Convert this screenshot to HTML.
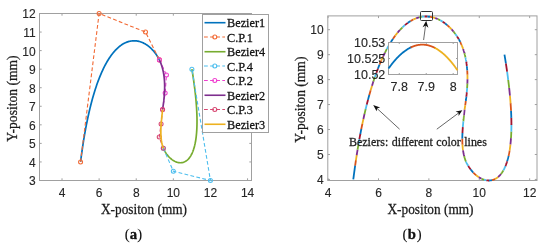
<!DOCTYPE html>
<html><head><meta charset="utf-8"><style>
html,body{margin:0;padding:0;background:#fff;width:550px;height:246px;overflow:hidden}
svg{display:block;filter:blur(0.3px)}
</style></head><body>
<svg width="550" height="246" viewBox="0 0 550 246">
<rect width="550" height="246" fill="#fff"/>
<g stroke="#a0a0a0" stroke-width="1" fill="none">
<line x1="62" y1="180.5" x2="62" y2="178.3"/>
<line x1="62" y1="13.5" x2="62" y2="15.7"/>
<line x1="99.11" y1="180.5" x2="99.11" y2="178.3"/>
<line x1="99.11" y1="13.5" x2="99.11" y2="15.7"/>
<line x1="136.22" y1="180.5" x2="136.22" y2="178.3"/>
<line x1="136.22" y1="13.5" x2="136.22" y2="15.7"/>
<line x1="173.33" y1="180.5" x2="173.33" y2="178.3"/>
<line x1="173.33" y1="13.5" x2="173.33" y2="15.7"/>
<line x1="210.44" y1="180.5" x2="210.44" y2="178.3"/>
<line x1="210.44" y1="13.5" x2="210.44" y2="15.7"/>
<line x1="247.56" y1="180.5" x2="247.56" y2="178.3"/>
<line x1="247.56" y1="13.5" x2="247.56" y2="15.7"/>
<line x1="39.5" y1="180.5" x2="41.7" y2="180.5"/>
<line x1="251.5" y1="180.5" x2="249.3" y2="180.5"/>
<line x1="39.5" y1="161.94" x2="41.7" y2="161.94"/>
<line x1="251.5" y1="161.94" x2="249.3" y2="161.94"/>
<line x1="39.5" y1="143.39" x2="41.7" y2="143.39"/>
<line x1="251.5" y1="143.39" x2="249.3" y2="143.39"/>
<line x1="39.5" y1="124.83" x2="41.7" y2="124.83"/>
<line x1="251.5" y1="124.83" x2="249.3" y2="124.83"/>
<line x1="39.5" y1="106.28" x2="41.7" y2="106.28"/>
<line x1="251.5" y1="106.28" x2="249.3" y2="106.28"/>
<line x1="39.5" y1="87.72" x2="41.7" y2="87.72"/>
<line x1="251.5" y1="87.72" x2="249.3" y2="87.72"/>
<line x1="39.5" y1="69.17" x2="41.7" y2="69.17"/>
<line x1="251.5" y1="69.17" x2="249.3" y2="69.17"/>
<line x1="39.5" y1="50.61" x2="41.7" y2="50.61"/>
<line x1="251.5" y1="50.61" x2="249.3" y2="50.61"/>
<line x1="39.5" y1="32.06" x2="41.7" y2="32.06"/>
<line x1="251.5" y1="32.06" x2="249.3" y2="32.06"/>
<line x1="39.5" y1="13.5" x2="41.7" y2="13.5"/>
<line x1="251.5" y1="13.5" x2="249.3" y2="13.5"/>
<rect x="39.5" y="13.5" width="212" height="167"/>
</g>
<path d="M80.56 161.94 L81.03 158.24 L81.51 154.6 L82.01 151.03 L82.52 147.54 L83.04 144.11 L83.57 140.74 L84.11 137.45 L84.66 134.22 L85.22 131.06 L85.79 127.97 L86.37 124.94 L86.96 121.97 L87.55 119.07 L88.16 116.23 L88.78 113.45 L89.4 110.74 L90.04 108.09 L90.68 105.5 L91.33 102.97 L91.98 100.5 L92.65 98.09 L93.32 95.74 L94 93.45 L94.68 91.21 L95.38 89.04 L96.08 86.92 L96.78 84.85 L97.49 82.84 L98.21 80.89 L98.93 78.99 L99.66 77.14 L100.39 75.35 L101.13 73.61 L101.87 71.93 L102.62 70.29 L103.37 68.71 L104.12 67.17 L104.88 65.69 L105.64 64.25 L106.41 62.87 L107.18 61.53 L107.95 60.24 L108.73 59 L109.51 57.8 L110.29 56.65 L111.07 55.55 L111.85 54.49 L112.64 53.48 L113.42 52.51 L114.21 51.58 L115 50.69 L115.79 49.85 L116.58 49.05 L117.38 48.29 L118.17 47.57 L118.96 46.89 L119.75 46.25 L120.54 45.64 L121.33 45.08 L122.12 44.55 L122.91 44.06 L123.7 43.61 L124.48 43.2 L125.26 42.81 L126.05 42.47 L126.83 42.16 L127.6 41.88 L128.38 41.63 L129.15 41.42 L129.92 41.24 L130.68 41.09 L131.45 40.97 L132.2 40.88 L132.96 40.82 L133.71 40.79 L134.46 40.79 L135.2 40.82 L135.93 40.87 L136.67 40.96 L137.39 41.06 L138.11 41.2 L138.83 41.36 L139.54 41.54 L140.24 41.75 L140.94 41.98 L141.63 42.24 L142.32 42.51 L143 42.81 L143.67 43.13 L144.33 43.48 L144.99 43.84 L145.63 44.22 L146.27 44.62 L146.91 45.04 L147.53 45.47 L148.14 45.93 L148.75 46.4 L149.35 46.89 L149.93 47.39 L150.51 47.91 L151.08 48.44 L151.64 48.99 L152.19 49.55 L152.73 50.12 L153.25 50.71 L153.77 51.3 L154.28 51.91 L154.77 52.53 L155.26 53.16 L155.73 53.8 L156.19 54.45 L156.64 55.11 L157.07 55.77 L157.49 56.44 L157.91 57.12 L158.3 57.8 L158.69 58.49 L159.06 59.19 L159.42 59.89" fill="none" stroke="#0072BD" stroke-width="1.7" stroke-linejoin="round"/>
<path d="M80.56 161.94 L99.11 13.5 L145.5 32.06 L159.42 59.89" fill="none" stroke="#F26A35" stroke-width="1.1" stroke-dasharray="3.8 2.3"/>
<circle cx="80.56" cy="161.94" r="2.0" fill="none" stroke="#F26A35" stroke-width="1.05"/>
<circle cx="99.11" cy="13.5" r="2.0" fill="none" stroke="#F26A35" stroke-width="1.05"/>
<circle cx="145.5" cy="32.06" r="2.0" fill="none" stroke="#F26A35" stroke-width="1.05"/>
<circle cx="159.42" cy="59.89" r="2.0" fill="none" stroke="#F26A35" stroke-width="1.05"/>
<path d="M163.31 148.21 L163.57 148.79 L163.84 149.36 L164.12 149.93 L164.41 150.48 L164.71 151.03 L165.02 151.58 L165.35 152.11 L165.68 152.64 L166.02 153.15 L166.36 153.66 L166.72 154.16 L167.09 154.65 L167.46 155.12 L167.84 155.59 L168.23 156.05 L168.62 156.49 L169.02 156.92 L169.43 157.34 L169.85 157.75 L170.27 158.14 L170.69 158.52 L171.13 158.89 L171.56 159.24 L172 159.58 L172.45 159.91 L172.9 160.21 L173.35 160.51 L173.81 160.78 L174.27 161.04 L174.73 161.28 L175.2 161.51 L175.66 161.72 L176.13 161.91 L176.61 162.08 L177.08 162.23 L177.55 162.37 L178.03 162.48 L178.51 162.57 L178.98 162.65 L179.46 162.7 L179.93 162.73 L180.41 162.75 L180.88 162.73 L181.36 162.7 L181.83 162.65 L182.3 162.57 L182.77 162.47 L183.23 162.34 L183.69 162.19 L184.15 162.02 L184.61 161.82 L185.06 161.59 L185.51 161.34 L185.96 161.07 L186.4 160.76 L186.83 160.44 L187.26 160.08 L187.69 159.7 L188.11 159.28 L188.52 158.84 L188.93 158.38 L189.33 157.88 L189.73 157.35 L190.11 156.8 L190.49 156.21 L190.87 155.59 L191.23 154.94 L191.59 154.26 L191.93 153.55 L192.27 152.81 L192.6 152.03 L192.92 151.22 L193.23 150.38 L193.53 149.51 L193.82 148.6 L194.1 147.65 L194.37 146.68 L194.63 145.66 L194.87 144.61 L195.11 143.53 L195.33 142.41 L195.54 141.25 L195.74 140.05 L195.92 138.82 L196.09 137.55 L196.25 136.24 L196.39 134.9 L196.52 133.51 L196.63 132.08 L196.73 130.62 L196.82 129.11 L196.89 127.57 L196.94 125.98 L196.98 124.36 L197 122.69 L197.01 120.98 L197 119.22 L196.97 117.43 L196.92 115.59 L196.86 113.71 L196.77 111.78 L196.67 109.81 L196.56 107.79 L196.42 105.73 L196.26 103.63 L196.09 101.48 L195.89 99.28 L195.67 97.03 L195.44 94.74 L195.18 92.4 L194.9 90.02 L194.6 87.58 L194.28 85.1 L193.94 82.57 L193.57 79.99 L193.19 77.36 L192.78 74.68 L192.34 71.95 L191.89 69.17" fill="none" stroke="#77AC30" stroke-width="1.7" stroke-linejoin="round"/>
<path d="M163.31 148.21 L173.33 171.22 L210.44 180.5 L191.89 69.17" fill="none" stroke="#4DBEEE" stroke-width="1.1" stroke-dasharray="3.8 2.3"/>
<circle cx="163.31" cy="148.21" r="2.0" fill="none" stroke="#4DBEEE" stroke-width="1.05"/>
<circle cx="173.33" cy="171.22" r="2.0" fill="none" stroke="#4DBEEE" stroke-width="1.05"/>
<circle cx="210.44" cy="180.5" r="2.0" fill="none" stroke="#4DBEEE" stroke-width="1.05"/>
<circle cx="191.89" cy="69.17" r="2.0" fill="none" stroke="#4DBEEE" stroke-width="1.05"/>
<path d="M159.42 59.89 L166.47 74.92 L165.17 92.92 L162.57 109.62" fill="none" stroke="#F040D0" stroke-width="1.1" stroke-dasharray="3.8 2.3"/>
<circle cx="159.42" cy="59.89" r="2.0" fill="none" stroke="#F040D0" stroke-width="1.05"/>
<circle cx="166.47" cy="74.92" r="2.0" fill="none" stroke="#F040D0" stroke-width="1.05"/>
<circle cx="165.17" cy="92.92" r="2.0" fill="none" stroke="#F040D0" stroke-width="1.05"/>
<circle cx="162.57" cy="109.62" r="2.0" fill="none" stroke="#F040D0" stroke-width="1.05"/>
<path d="M159.42 59.89 L159.59 60.27 L159.77 60.65 L159.93 61.03 L160.1 61.41 L160.26 61.8 L160.42 62.18 L160.58 62.57 L160.73 62.96 L160.88 63.35 L161.02 63.74 L161.16 64.13 L161.3 64.52 L161.44 64.92 L161.57 65.31 L161.7 65.71 L161.83 66.1 L161.95 66.5 L162.07 66.9 L162.18 67.3 L162.3 67.7 L162.41 68.1 L162.52 68.5 L162.62 68.91 L162.72 69.31 L162.82 69.72 L162.92 70.12 L163.01 70.53 L163.1 70.94 L163.19 71.34 L163.27 71.75 L163.35 72.16 L163.43 72.57 L163.51 72.99 L163.58 73.4 L163.65 73.81 L163.72 74.23 L163.78 74.64 L163.85 75.06 L163.91 75.47 L163.96 75.89 L164.02 76.31 L164.07 76.72 L164.12 77.14 L164.17 77.56 L164.22 77.98 L164.26 78.4 L164.3 78.82 L164.34 79.25 L164.37 79.67 L164.41 80.09 L164.44 80.51 L164.47 80.94 L164.49 81.36 L164.52 81.79 L164.54 82.21 L164.56 82.64 L164.58 83.06 L164.59 83.49 L164.61 83.91 L164.62 84.34 L164.63 84.77 L164.64 85.2 L164.64 85.62 L164.64 86.05 L164.65 86.48 L164.65 86.91 L164.64 87.34 L164.64 87.77 L164.63 88.2 L164.63 88.63 L164.62 89.06 L164.61 89.49 L164.59 89.92 L164.58 90.35 L164.56 90.78 L164.55 91.21 L164.53 91.64 L164.51 92.07 L164.48 92.5 L164.46 92.93 L164.43 93.36 L164.41 93.79 L164.38 94.22 L164.35 94.65 L164.32 95.08 L164.28 95.52 L164.25 95.95 L164.21 96.38 L164.18 96.81 L164.14 97.24 L164.1 97.67 L164.06 98.1 L164.01 98.53 L163.97 98.96 L163.93 99.39 L163.88 99.82 L163.83 100.25 L163.79 100.68 L163.74 101.11 L163.69 101.54 L163.64 101.97 L163.58 102.39 L163.53 102.82 L163.48 103.25 L163.42 103.68 L163.37 104.1 L163.31 104.53 L163.25 104.96 L163.19 105.38 L163.14 105.81 L163.08 106.23 L163.01 106.66 L162.95 107.08 L162.89 107.51 L162.83 107.93 L162.76 108.35 L162.7 108.77 L162.64 109.2 L162.57 109.62" fill="none" stroke="#7E2F8E" stroke-width="1.7" stroke-linejoin="round"/>
<path d="M162.57 109.62 L161.09 123.91 L159.23 137.08 L163.31 148.21" fill="none" stroke="#D84872" stroke-width="1.1" stroke-dasharray="3.8 2.3"/>
<circle cx="162.57" cy="109.62" r="2.0" fill="none" stroke="#D84872" stroke-width="1.05"/>
<circle cx="161.09" cy="123.91" r="2.0" fill="none" stroke="#D84872" stroke-width="1.05"/>
<circle cx="159.23" cy="137.08" r="2.0" fill="none" stroke="#D84872" stroke-width="1.05"/>
<circle cx="163.31" cy="148.21" r="2.0" fill="none" stroke="#D84872" stroke-width="1.05"/>
<path d="M162.57 109.62 L162.53 109.98 L162.5 110.34 L162.46 110.7 L162.42 111.05 L162.38 111.41 L162.34 111.77 L162.31 112.13 L162.27 112.48 L162.23 112.84 L162.19 113.2 L162.15 113.55 L162.12 113.91 L162.08 114.26 L162.04 114.61 L162 114.97 L161.97 115.32 L161.93 115.67 L161.89 116.02 L161.86 116.37 L161.82 116.72 L161.79 117.07 L161.75 117.42 L161.71 117.77 L161.68 118.12 L161.64 118.47 L161.61 118.81 L161.58 119.16 L161.54 119.51 L161.51 119.85 L161.48 120.2 L161.45 120.54 L161.42 120.88 L161.39 121.23 L161.35 121.57 L161.33 121.91 L161.3 122.25 L161.27 122.59 L161.24 122.93 L161.21 123.27 L161.19 123.61 L161.16 123.95 L161.14 124.29 L161.11 124.63 L161.09 124.96 L161.07 125.3 L161.05 125.63 L161.03 125.97 L161.01 126.3 L160.99 126.64 L160.97 126.97 L160.95 127.3 L160.94 127.63 L160.92 127.96 L160.91 128.29 L160.9 128.62 L160.89 128.95 L160.88 129.28 L160.87 129.61 L160.86 129.94 L160.85 130.26 L160.85 130.59 L160.84 130.91 L160.84 131.24 L160.84 131.56 L160.83 131.88 L160.84 132.21 L160.84 132.53 L160.84 132.85 L160.84 133.17 L160.85 133.49 L160.86 133.81 L160.87 134.12 L160.88 134.44 L160.89 134.76 L160.9 135.07 L160.92 135.39 L160.93 135.7 L160.95 136.02 L160.97 136.33 L160.99 136.64 L161.01 136.95 L161.04 137.26 L161.06 137.57 L161.09 137.88 L161.12 138.19 L161.15 138.5 L161.19 138.81 L161.22 139.11 L161.26 139.42 L161.3 139.72 L161.34 140.03 L161.38 140.33 L161.42 140.63 L161.47 140.93 L161.52 141.24 L161.57 141.54 L161.62 141.84 L161.67 142.13 L161.73 142.43 L161.79 142.73 L161.85 143.02 L161.91 143.32 L161.97 143.61 L162.04 143.91 L162.11 144.2 L162.18 144.49 L162.25 144.78 L162.33 145.07 L162.41 145.36 L162.49 145.65 L162.57 145.94 L162.65 146.23 L162.74 146.51 L162.83 146.8 L162.92 147.08 L163.02 147.37 L163.11 147.65 L163.21 147.93 L163.31 148.21" fill="none" stroke="#EDB120" stroke-width="1.7" stroke-linejoin="round"/>
<text transform="translate(62 197.3)" font-family="Liberation Sans, Arial, sans-serif" font-size="12" fill="#262626" text-anchor="middle" stroke="#262626" stroke-width="0.12">4</text>
<text transform="translate(99.11 197.3)" font-family="Liberation Sans, Arial, sans-serif" font-size="12" fill="#262626" text-anchor="middle" stroke="#262626" stroke-width="0.12">6</text>
<text transform="translate(136.22 197.3)" font-family="Liberation Sans, Arial, sans-serif" font-size="12" fill="#262626" text-anchor="middle" stroke="#262626" stroke-width="0.12">8</text>
<text transform="translate(173.33 197.3)" font-family="Liberation Sans, Arial, sans-serif" font-size="12" fill="#262626" text-anchor="middle" stroke="#262626" stroke-width="0.12">10</text>
<text transform="translate(210.44 197.3)" font-family="Liberation Sans, Arial, sans-serif" font-size="12" fill="#262626" text-anchor="middle" stroke="#262626" stroke-width="0.12">12</text>
<text transform="translate(247.56 197.3)" font-family="Liberation Sans, Arial, sans-serif" font-size="12" fill="#262626" text-anchor="middle" stroke="#262626" stroke-width="0.12">14</text>
<text transform="translate(35.6 185.4)" font-family="Liberation Sans, Arial, sans-serif" font-size="12" fill="#262626" text-anchor="end" stroke="#262626" stroke-width="0.12">3</text>
<text transform="translate(35.6 166.84)" font-family="Liberation Sans, Arial, sans-serif" font-size="12" fill="#262626" text-anchor="end" stroke="#262626" stroke-width="0.12">4</text>
<text transform="translate(35.6 148.29)" font-family="Liberation Sans, Arial, sans-serif" font-size="12" fill="#262626" text-anchor="end" stroke="#262626" stroke-width="0.12">5</text>
<text transform="translate(35.6 129.73)" font-family="Liberation Sans, Arial, sans-serif" font-size="12" fill="#262626" text-anchor="end" stroke="#262626" stroke-width="0.12">6</text>
<text transform="translate(35.6 111.18)" font-family="Liberation Sans, Arial, sans-serif" font-size="12" fill="#262626" text-anchor="end" stroke="#262626" stroke-width="0.12">7</text>
<text transform="translate(35.6 92.62)" font-family="Liberation Sans, Arial, sans-serif" font-size="12" fill="#262626" text-anchor="end" stroke="#262626" stroke-width="0.12">8</text>
<text transform="translate(35.6 74.07)" font-family="Liberation Sans, Arial, sans-serif" font-size="12" fill="#262626" text-anchor="end" stroke="#262626" stroke-width="0.12">9</text>
<text transform="translate(35.6 55.51)" font-family="Liberation Sans, Arial, sans-serif" font-size="12" fill="#262626" text-anchor="end" stroke="#262626" stroke-width="0.12">10</text>
<text transform="translate(35.6 36.96)" font-family="Liberation Sans, Arial, sans-serif" font-size="12" fill="#262626" text-anchor="end" stroke="#262626" stroke-width="0.12">11</text>
<text transform="translate(35.6 18.4)" font-family="Liberation Sans, Arial, sans-serif" font-size="12" fill="#262626" text-anchor="end" stroke="#262626" stroke-width="0.12">12</text>
<text transform="translate(144 214.4) scale(1.0 1.07)" font-family="Liberation Serif, Times New Roman, serif" font-size="13.3" fill="#1a1a1a" text-anchor="middle" stroke="#1a1a1a" stroke-width="0.25">X-positon (mm)</text>
<text transform="translate(17 98.6) rotate(-90) scale(1.02 1.07)" font-family="Liberation Serif, Times New Roman, serif" font-size="13.3" fill="#1a1a1a" text-anchor="middle" stroke="#1a1a1a" stroke-width="0.25">Y-positon (mm)</text>
<text transform="translate(133.6 238.8) scale(1.0 1.06)" font-family="Liberation Serif, Times New Roman, serif" font-size="14.7" fill="#111" text-anchor="middle" stroke="#111" stroke-width="0.1" letter-spacing="0.15">(<tspan font-weight="bold" stroke-width="0.35">a</tspan>)</text>
<rect x="202.5" y="14.5" width="66.0" height="118.0" fill="#fff" stroke="#a0a0a0" stroke-width="1"/>
<line x1="204.5" y1="22.7" x2="225.5" y2="22.7" stroke="#0072BD" stroke-width="1.6"/>
<text transform="translate(227 27.4) scale(1.0 1.08)" font-family="Liberation Serif, Times New Roman, serif" font-size="12.3" fill="#111" stroke="#111" stroke-width="0.25">Bezier1</text>
<line x1="204" y1="37.01" x2="225" y2="37.01" stroke="#F26A35" stroke-width="1.1" stroke-dasharray="3.8 2.3"/>
<circle cx="214.8" cy="37.01" r="2.0" fill="none" stroke="#F26A35" stroke-width="1.05"/>
<text transform="translate(227 41.91) scale(1.0 1.08)" font-family="Liberation Serif, Times New Roman, serif" font-size="12.3" fill="#111" stroke="#111" stroke-width="0.25">C.P.1</text>
<line x1="204.5" y1="51.72" x2="225.5" y2="51.72" stroke="#77AC30" stroke-width="1.6"/>
<text transform="translate(227 56.42) scale(1.0 1.08)" font-family="Liberation Serif, Times New Roman, serif" font-size="12.3" fill="#111" stroke="#111" stroke-width="0.25">Bezier4</text>
<line x1="204" y1="66.03" x2="225" y2="66.03" stroke="#4DBEEE" stroke-width="1.1" stroke-dasharray="3.8 2.3"/>
<circle cx="214.8" cy="66.03" r="2.0" fill="none" stroke="#4DBEEE" stroke-width="1.05"/>
<text transform="translate(227 70.93) scale(1.0 1.08)" font-family="Liberation Serif, Times New Roman, serif" font-size="12.3" fill="#111" stroke="#111" stroke-width="0.25">C.P.4</text>
<line x1="204" y1="80.54" x2="225" y2="80.54" stroke="#F040D0" stroke-width="1.1" stroke-dasharray="3.8 2.3"/>
<circle cx="214.8" cy="80.54" r="2.0" fill="none" stroke="#F040D0" stroke-width="1.05"/>
<text transform="translate(227 85.44) scale(1.0 1.08)" font-family="Liberation Serif, Times New Roman, serif" font-size="12.3" fill="#111" stroke="#111" stroke-width="0.25">C.P.2</text>
<line x1="204.5" y1="95.25" x2="225.5" y2="95.25" stroke="#7E2F8E" stroke-width="1.6"/>
<text transform="translate(227 99.95) scale(1.0 1.08)" font-family="Liberation Serif, Times New Roman, serif" font-size="12.3" fill="#111" stroke="#111" stroke-width="0.25">Bezier2</text>
<line x1="204" y1="109.56" x2="225" y2="109.56" stroke="#D84872" stroke-width="1.1" stroke-dasharray="3.8 2.3"/>
<circle cx="214.8" cy="109.56" r="2.0" fill="none" stroke="#D84872" stroke-width="1.05"/>
<text transform="translate(227 114.46) scale(1.0 1.08)" font-family="Liberation Serif, Times New Roman, serif" font-size="12.3" fill="#111" stroke="#111" stroke-width="0.25">C.P.3</text>
<line x1="204.5" y1="124.27" x2="225.5" y2="124.27" stroke="#EDB120" stroke-width="1.6"/>
<text transform="translate(227 128.97) scale(1.0 1.08)" font-family="Liberation Serif, Times New Roman, serif" font-size="12.3" fill="#111" stroke="#111" stroke-width="0.25">Bezier3</text>
<g stroke="#a0a0a0" stroke-width="1" fill="none">
<line x1="328.1" y1="180.5" x2="328.1" y2="178.3"/>
<line x1="328.1" y1="15.9" x2="328.1" y2="18.1"/>
<line x1="378.49" y1="180.5" x2="378.49" y2="178.3"/>
<line x1="378.49" y1="15.9" x2="378.49" y2="18.1"/>
<line x1="428.88" y1="180.5" x2="428.88" y2="178.3"/>
<line x1="428.88" y1="15.9" x2="428.88" y2="18.1"/>
<line x1="479.27" y1="180.5" x2="479.27" y2="178.3"/>
<line x1="479.27" y1="15.9" x2="479.27" y2="18.1"/>
<line x1="529.66" y1="180.5" x2="529.66" y2="178.3"/>
<line x1="529.66" y1="15.9" x2="529.66" y2="18.1"/>
<line x1="327.8" y1="179.43" x2="330" y2="179.43"/>
<line x1="537" y1="179.43" x2="534.8" y2="179.43"/>
<line x1="327.8" y1="154.47" x2="330" y2="154.47"/>
<line x1="537" y1="154.47" x2="534.8" y2="154.47"/>
<line x1="327.8" y1="129.52" x2="330" y2="129.52"/>
<line x1="537" y1="129.52" x2="534.8" y2="129.52"/>
<line x1="327.8" y1="104.56" x2="330" y2="104.56"/>
<line x1="537" y1="104.56" x2="534.8" y2="104.56"/>
<line x1="327.8" y1="79.61" x2="330" y2="79.61"/>
<line x1="537" y1="79.61" x2="534.8" y2="79.61"/>
<line x1="327.8" y1="54.66" x2="330" y2="54.66"/>
<line x1="537" y1="54.66" x2="534.8" y2="54.66"/>
<line x1="327.8" y1="29.7" x2="330" y2="29.7"/>
<line x1="537" y1="29.7" x2="534.8" y2="29.7"/>
<rect x="327.8" y="15.9" width="209.2" height="164.6"/>
</g>
<path d="M353.29 179.43 L353.45 178.23 L353.6 177.04 L353.75 175.86 L353.91 174.68 L354.06 173.51 L354.22 172.34 L354.38 171.17 L354.53 170.02 L354.69 168.86 L354.85 167.72 L355.01 166.57 L355.17 165.44 L355.17 165.44" fill="none" stroke="#0072BD" stroke-width="1.8"/>
<path d="M355.15 165.63 L355.31 164.5 L355.47 163.37 L355.64 162.25 L355.8 161.13 L355.94 160.2" fill="none" stroke="#D95319" stroke-width="1.8"/>
<path d="M355.91 160.39 L356.08 159.28 L356.24 158.18 L356.41 157.08 L356.58 155.99 L356.75 154.9 L356.75 154.9" fill="none" stroke="#EDB120" stroke-width="1.8"/>
<path d="M356.72 155.08 L356.89 154 L357.06 152.92 L357.23 151.85 L357.41 150.78 L357.58 149.72 L357.61 149.55" fill="none" stroke="#7E2F8E" stroke-width="1.8"/>
<path d="M357.58 149.72 L357.75 148.67 L357.93 147.61 L358.1 146.57 L358.28 145.53 L358.46 144.49 L358.49 144.32" fill="none" stroke="#77AC30" stroke-width="1.8"/>
<path d="M358.46 144.49 L358.63 143.46 L358.81 142.43 L358.99 141.41 L359.17 140.39 L359.35 139.38 L359.42 139.05" fill="none" stroke="#4DBEEE" stroke-width="1.8"/>
<path d="M359.39 139.21 L359.57 138.21 L359.75 137.21 L359.93 136.21 L360.12 135.22 L360.3 134.24 L360.36 133.91" fill="none" stroke="#A2142F" stroke-width="1.8"/>
<path d="M360.33 134.07 L360.52 133.09 L360.71 132.12 L360.89 131.15 L361.08 130.19 L361.27 129.23 L361.33 128.91" fill="none" stroke="#0072BD" stroke-width="1.8"/>
<path d="M361.3 129.07 L361.49 128.11 L361.68 127.16 L361.87 126.22 L362.07 125.28 L362.26 124.35 L362.35 123.88" fill="none" stroke="#D95319" stroke-width="1.8"/>
<path d="M362.32 124.03 L362.52 123.11 L362.71 122.18 L362.9 121.27 L363.1 120.35 L363.3 119.44 L363.43 118.84" fill="none" stroke="#EDB120" stroke-width="1.8"/>
<path d="M363.39 118.99 L363.59 118.09 L363.79 117.19 L363.99 116.3 L364.19 115.41 L364.39 114.53 L364.52 113.94" fill="none" stroke="#7E2F8E" stroke-width="1.8"/>
<path d="M364.49 114.09 L364.69 113.22 L364.89 112.35 L365.09 111.48 L365.3 110.62 L365.5 109.76 L365.67 109.05" fill="none" stroke="#77AC30" stroke-width="1.8"/>
<path d="M365.64 109.19 L365.84 108.35 L366.05 107.5 L366.25 106.66 L366.46 105.83 L366.66 105 L366.84 104.31" fill="none" stroke="#4DBEEE" stroke-width="1.8"/>
<path d="M366.8 104.45 L367.01 103.62 L367.22 102.81 L367.43 101.99 L367.64 101.19 L367.85 100.38 L368.06 99.58 L368.06 99.58" fill="none" stroke="#A2142F" stroke-width="1.8"/>
<path d="M368.03 99.72 L368.24 98.92 L368.45 98.13 L368.66 97.34 L368.88 96.56 L369.09 95.78 L369.3 95.01 L369.34 94.88" fill="none" stroke="#0072BD" stroke-width="1.8"/>
<path d="M369.3 95.01 L369.52 94.24 L369.74 93.48 L369.95 92.72 L370.17 91.97 L370.39 91.22 L370.6 90.47 L370.68 90.22" fill="none" stroke="#D95319" stroke-width="1.8"/>
<path d="M370.64 90.35 L370.86 89.61 L371.08 88.87 L371.3 88.14 L371.52 87.41 L371.74 86.69 L371.96 85.97 L372.03 85.73" fill="none" stroke="#EDB120" stroke-width="1.8"/>
<path d="M372 85.85 L372.22 85.14 L372.44 84.43 L372.66 83.72 L372.89 83.02 L373.11 82.33 L373.33 81.64 L373.45 81.29" fill="none" stroke="#7E2F8E" stroke-width="1.8"/>
<path d="M373.41 81.41 L373.63 80.72 L373.86 80.04 L374.09 79.36 L374.31 78.69 L374.54 78.02 L374.77 77.36 L374.92 76.91" fill="none" stroke="#77AC30" stroke-width="1.8"/>
<path d="M374.88 77.02 L375.11 76.37 L375.34 75.71 L375.57 75.06 L375.8 74.42 L376.03 73.78 L376.26 73.14 L376.41 72.72" fill="none" stroke="#4DBEEE" stroke-width="1.8"/>
<path d="M376.37 72.82 L376.6 72.19 L376.83 71.57 L377.07 70.94 L377.3 70.33 L377.53 69.71 L377.76 69.1 L378 68.5 L378 68.5" fill="none" stroke="#A2142F" stroke-width="1.8"/>
<path d="M377.96 68.6 L378.19 68 L378.43 67.4 L378.66 66.8 L378.9 66.21 L379.13 65.63 L379.37 65.05 L379.61 64.47 L379.64 64.37" fill="none" stroke="#0072BD" stroke-width="1.8"/>
<path d="M379.61 64.47 L379.84 63.89 L380.08 63.32 L380.32 62.76 L380.55 62.2 L380.79 61.64 L381.03 61.09 L381.27 60.54 L381.35 60.35" fill="none" stroke="#D95319" stroke-width="1.8"/>
<path d="M381.31 60.45 L381.55 59.9 L381.79 59.36 L382.03 58.82 L382.27 58.29 L382.51 57.76 L382.75 57.24 L382.99 56.71 L383.12 56.45" fill="none" stroke="#EDB120" stroke-width="1.8"/>
<path d="M383.07 56.54 L383.32 56.02 L383.56 55.51 L383.8 55 L384.04 54.5 L384.29 54 L384.53 53.5 L384.78 53.01 L384.94 52.68" fill="none" stroke="#7E2F8E" stroke-width="1.8"/>
<path d="M384.9 52.76 L385.14 52.28 L385.39 51.79 L385.63 51.31 L385.88 50.84 L386.12 50.37 L386.37 49.9 L386.61 49.43 L386.86 48.97 L386.86 48.97" fill="none" stroke="#77AC30" stroke-width="1.8"/>
<path d="M386.82 49.05 L387.07 48.59 L387.31 48.14 L387.56 47.69 L387.81 47.24 L388.05 46.8 L388.3 46.36 L388.55 45.92 L388.8 45.49 L388.84 45.42" fill="none" stroke="#4DBEEE" stroke-width="1.8"/>
<path d="M388.8 45.49 L389.05 45.07 L389.3 44.64 L389.55 44.22 L389.79 43.8 L390.04 43.39 L390.29 42.98 L390.54 42.57 L390.79 42.17 L390.88 42.04" fill="none" stroke="#A2142F" stroke-width="1.8"/>
<path d="M390.84 42.1 L391.09 41.71 L391.34 41.31 L391.59 40.92 L391.84 40.53 L392.09 40.15 L392.34 39.77 L392.59 39.39 L392.84 39.02 L393.05 38.71" fill="none" stroke="#0072BD" stroke-width="1.8"/>
<path d="M393.01 38.77 L393.26 38.4 L393.52 38.04 L393.77 37.68 L394.02 37.32 L394.27 36.96 L394.53 36.61 L394.78 36.27 L395.03 35.92 L395.29 35.58 L395.29 35.58" fill="none" stroke="#D95319" stroke-width="1.8"/>
<path d="M395.25 35.64 L395.5 35.3 L395.75 34.97 L396.01 34.64 L396.26 34.31 L396.51 33.99 L396.77 33.66 L397.02 33.35 L397.28 33.03 L397.53 32.72 L397.62 32.62" fill="none" stroke="#EDB120" stroke-width="1.8"/>
<path d="M397.57 32.67 L397.83 32.36 L398.08 32.06 L398.34 31.76 L398.59 31.46 L398.85 31.17 L399.1 30.88 L399.36 30.59 L399.61 30.31 L399.87 30.03 L400.04 29.84" fill="none" stroke="#7E2F8E" stroke-width="1.8"/>
<path d="M399.99 29.89 L400.25 29.61 L400.51 29.34 L400.76 29.07 L401.02 28.8 L401.27 28.54 L401.53 28.28 L401.78 28.03 L402.04 27.77 L402.29 27.52 L402.51 27.31" fill="none" stroke="#77AC30" stroke-width="1.8"/>
<path d="M402.46 27.36 L402.72 27.11 L402.98 26.87 L403.23 26.63 L403.49 26.39 L403.74 26.16 L404 25.93 L404.26 25.7 L404.51 25.48 L404.77 25.26 L405.02 25.04 L405.11 24.97" fill="none" stroke="#4DBEEE" stroke-width="1.8"/>
<path d="M405.07 25 L405.32 24.79 L405.58 24.58 L405.83 24.37 L406.09 24.17 L406.34 23.96 L406.6 23.76 L406.86 23.57 L407.11 23.37 L407.37 23.18 L407.62 23 L407.79 22.87" fill="none" stroke="#A2142F" stroke-width="1.8"/>
<path d="M407.75 22.9 L408.01 22.72 L408.26 22.54 L408.52 22.36 L408.77 22.19 L409.03 22.02 L409.28 21.85 L409.54 21.68 L409.79 21.52 L410.05 21.36 L410.3 21.2 L410.56 21.04 L410.56 21.04" fill="none" stroke="#0072BD" stroke-width="1.8"/>
<path d="M410.51 21.07 L410.77 20.92 L411.02 20.77 L411.28 20.62 L411.53 20.48 L411.79 20.34 L412.04 20.2 L412.29 20.06 L412.55 19.93 L412.8 19.8 L413.05 19.67 L413.31 19.54 L413.39 19.5" fill="none" stroke="#D95319" stroke-width="1.8"/>
<path d="M413.35 19.52 L413.6 19.4 L413.86 19.28 L414.11 19.17 L414.36 19.05 L414.61 18.94 L414.87 18.83 L415.12 18.73 L415.37 18.62 L415.62 18.52 L415.88 18.42 L416.13 18.33 L416.21 18.3" fill="none" stroke="#EDB120" stroke-width="1.8"/>
<path d="M416.17 18.31 L416.42 18.22 L416.67 18.13 L416.92 18.04 L417.17 17.96 L417.42 17.87 L417.68 17.79 L417.93 17.71 L418.18 17.64 L418.43 17.57 L418.67 17.5 L418.92 17.43 L419.09 17.39" fill="none" stroke="#7E2F8E" stroke-width="1.8"/>
<path d="M419.05 17.4 L419.3 17.33 L419.55 17.27 L419.8 17.21 L420.04 17.15 L420.29 17.1 L420.54 17.05 L420.79 17 L421.03 16.95 L421.28 16.91 L421.53 16.86 L421.78 16.82 L421.9 16.81" fill="none" stroke="#77AC30" stroke-width="1.8"/>
<path d="M421.86 16.81 L422.1 16.77 L422.35 16.74 L422.59 16.71 L422.84 16.68 L423.09 16.65 L423.33 16.62 L423.57 16.6 L423.82 16.58 L424.06 16.56 L424.31 16.54 L424.55 16.53 L424.67 16.52" fill="none" stroke="#4DBEEE" stroke-width="1.8"/>
<path d="M424.63 16.53 L424.87 16.52 L425.12 16.51 L425.36 16.5 L425.6 16.49 L425.84 16.49 L426.08 16.49 L426.32 16.49 L426.56 16.5 L426.8 16.5 L427.04 16.51 L427.28 16.52 L427.36 16.53" fill="none" stroke="#A2142F" stroke-width="1.8"/>
<path d="M427.32 16.52 L427.56 16.54 L427.8 16.55 L428.04 16.57 L428.28 16.59 L428.51 16.61 L428.75 16.63 L428.99 16.66 L429.22 16.68 L429.46 16.71 L429.7 16.75 L429.93 16.78 L429.97 16.78" fill="none" stroke="#0072BD" stroke-width="1.8"/>
<path d="M429.93 16.78 L430.17 16.81 L430.4 16.85 L430.63 16.89 L430.87 16.93 L431.1 16.97 L431.33 17.02 L431.57 17.07 L431.8 17.12 L432.03 17.17 L432.26 17.22 L432.49 17.27 L432.6 17.3" fill="none" stroke="#D95319" stroke-width="1.8"/>
<path d="M432.57 17.29 L432.8 17.35 L433.03 17.41 L433.25 17.47 L433.48 17.53 L433.71 17.6 L433.94 17.66 L434.17 17.73 L434.39 17.8 L434.62 17.87 L434.84 17.95 L435.07 18.02 L435.22 18.07" fill="none" stroke="#EDB120" stroke-width="1.8"/>
<path d="M435.18 18.06 L435.41 18.14 L435.63 18.22 L435.85 18.3 L436.08 18.38 L436.3 18.47 L436.52 18.55 L436.74 18.64 L436.96 18.73 L437.18 18.82 L437.4 18.92 L437.62 19.01 L437.77 19.08" fill="none" stroke="#7E2F8E" stroke-width="1.8"/>
<path d="M437.73 19.06 L437.95 19.16 L438.17 19.26 L438.39 19.36 L438.6 19.46 L438.82 19.56 L439.03 19.67 L439.25 19.78 L439.46 19.88 L439.68 19.99 L439.89 20.11 L440.1 20.22 L440.28 20.32" fill="none" stroke="#77AC30" stroke-width="1.8"/>
<path d="M440.25 20.3 L440.46 20.41 L440.67 20.53 L440.88 20.65 L441.09 20.77 L441.3 20.89 L441.51 21.01 L441.72 21.14 L441.92 21.27 L442.13 21.39 L442.34 21.52 L442.54 21.65 L442.71 21.76" fill="none" stroke="#4DBEEE" stroke-width="1.8"/>
<path d="M442.68 21.74 L442.89 21.87 L443.09 22.01 L443.29 22.14 L443.5 22.28 L443.7 22.42 L443.9 22.56 L444.1 22.7 L444.3 22.84 L444.5 22.99 L444.7 23.13 L444.9 23.28 L445.06 23.4" fill="none" stroke="#A2142F" stroke-width="1.8"/>
<path d="M445.03 23.37 L445.23 23.52 L445.42 23.67 L445.62 23.82 L445.81 23.98 L446.01 24.13 L446.2 24.28 L446.39 24.44 L446.59 24.6 L446.78 24.76 L446.97 24.92 L447.16 25.08 L447.32 25.21" fill="none" stroke="#0072BD" stroke-width="1.8"/>
<path d="M447.28 25.18 L447.47 25.35 L447.66 25.51 L447.85 25.68 L448.04 25.84 L448.22 26.01 L448.41 26.18 L448.59 26.35 L448.78 26.52 L448.96 26.69 L449.14 26.86 L449.32 27.04 L449.5 27.21 L449.5 27.21" fill="none" stroke="#D95319" stroke-width="1.8"/>
<path d="M449.47 27.18 L449.65 27.36 L449.83 27.54 L450.01 27.71 L450.19 27.89 L450.36 28.07 L450.54 28.25 L450.72 28.43 L450.89 28.62 L451.06 28.8 L451.24 28.99 L451.41 29.17 L451.55 29.33" fill="none" stroke="#EDB120" stroke-width="1.8"/>
<path d="M451.52 29.3 L451.69 29.48 L451.86 29.67 L452.03 29.86 L452.2 30.05 L452.37 30.24 L452.54 30.43 L452.7 30.63 L452.87 30.82 L453.03 31.01 L453.19 31.21 L453.36 31.4 L453.52 31.6 L453.54 31.63" fill="none" stroke="#7E2F8E" stroke-width="1.8"/>
<path d="M453.52 31.6 L453.68 31.8 L453.84 32 L454 32.2 L454.16 32.4 L454.31 32.6 L454.47 32.8 L454.62 33 L454.78 33.2 L454.93 33.41 L455.08 33.61 L455.24 33.82 L455.39 34.02 L455.39 34.02" fill="none" stroke="#77AC30" stroke-width="1.8"/>
<path d="M455.36 33.99 L455.51 34.19 L455.66 34.4 L455.81 34.61 L455.96 34.82 L456.1 35.03 L456.25 35.24 L456.39 35.45 L456.54 35.66 L456.68 35.87 L456.82 36.08 L456.96 36.29 L457.1 36.51 L457.15 36.58" fill="none" stroke="#4DBEEE" stroke-width="1.8"/>
<path d="M457.13 36.54 L457.27 36.75 L457.4 36.97 L457.54 37.18 L457.68 37.4 L457.81 37.62 L457.94 37.83 L458.08 38.05 L458.21 38.27 L458.34 38.48 L458.47 38.7 L458.6 38.92 L458.73 39.14 L458.79 39.25" fill="none" stroke="#A2142F" stroke-width="1.8"/>
<path d="M458.77 39.21 L458.9 39.43 L459.02 39.65 L459.15 39.88 L459.27 40.1 L459.39 40.32 L459.51 40.54 L459.63 40.76 L459.75 40.98 L459.87 41.21 L459.99 41.43 L460.11 41.65 L460.22 41.88 L460.3 42.03" fill="none" stroke="#0072BD" stroke-width="1.8"/>
<path d="M460.28 41.99 L460.37 42.18 L460.43 42.3 L460.49 42.42 L460.54 42.54 L460.6 42.66 L460.66 42.79 L460.71 42.91 L460.77 43.03 L460.82 43.15 L460.88 43.27 L460.93 43.4 L460.99 43.52 L461.04 43.64 L461.1 43.76 L461.15 43.89 L461.21 44.01 L461.26 44.13 L461.31 44.25 L461.36 44.38 L461.42 44.5 L461.47 44.62 L461.52 44.75 L461.57 44.87 L461.61 44.95" fill="none" stroke="#D95319" stroke-width="1.8"/>
<path d="M461.6 44.93 L461.65 45.05 L461.7 45.18 L461.75 45.3 L461.8 45.42 L461.85 45.55 L461.9 45.67 L461.95 45.8 L462 45.92 L462.05 46.04 L462.1 46.17 L462.15 46.29 L462.2 46.42 L462.24 46.54 L462.29 46.67 L462.34 46.79 L462.39 46.92 L462.44 47.04 L462.48 47.17 L462.53 47.29 L462.58 47.42 L462.62 47.54 L462.67 47.67 L462.71 47.79 L462.76 47.92 L462.8 48.04 L462.85 48.17 L462.89 48.29 L462.94 48.42 L462.98 48.54 L463.03 48.67 L463.07 48.8 L463.11 48.92 L463.16 49.05 L463.16 49.05" fill="none" stroke="#EDB120" stroke-width="1.8"/>
<path d="M463.15 49.03 L463.19 49.15 L463.23 49.28 L463.28 49.41 L463.32 49.53 L463.36 49.66 L463.4 49.79 L463.44 49.91 L463.49 50.04 L463.53 50.17 L463.57 50.29 L463.61 50.42 L463.65 50.55 L463.69 50.67 L463.73 50.8 L463.77 50.93 L463.81 51.06 L463.85 51.18 L463.88 51.31 L463.92 51.44 L463.96 51.57 L464 51.69 L464.04 51.82 L464.08 51.95 L464.11 52.08 L464.15 52.21 L464.19 52.33 L464.22 52.46 L464.26 52.59 L464.3 52.72 L464.33 52.85 L464.37 52.98 L464.4 53.1 L464.44 53.23 L464.44 53.23" fill="none" stroke="#7E2F8E" stroke-width="1.8"/>
<path d="M464.43 53.21 L464.47 53.34 L464.5 53.47 L464.54 53.6 L464.57 53.73 L464.61 53.86 L464.64 53.98 L464.67 54.11 L464.71 54.24 L464.74 54.37 L464.77 54.5 L464.81 54.63 L464.84 54.76 L464.87 54.89 L464.9 55.02 L464.94 55.15 L464.97 55.28 L465 55.41 L465.03 55.54 L465.06 55.67 L465.09 55.8 L465.12 55.93 L465.15 56.06 L465.18 56.19 L465.21 56.32 L465.24 56.45 L465.27 56.58 L465.3 56.71 L465.33 56.84 L465.36 56.97 L465.39 57.1 L465.42 57.23 L465.44 57.36 L465.47 57.49 L465.47 57.49" fill="none" stroke="#77AC30" stroke-width="1.8"/>
<path d="M465.47 57.47 L465.5 57.6 L465.52 57.73 L465.55 57.87 L465.58 58 L465.61 58.13 L465.63 58.26 L465.66 58.39 L465.68 58.52 L465.71 58.65 L465.74 58.78 L465.76 58.92 L465.79 59.05 L465.81 59.18 L465.84 59.31 L465.86 59.44 L465.89 59.57 L465.91 59.71 L465.94 59.84 L465.96 59.97 L465.98 60.1 L466.01 60.23 L466.03 60.37 L466.05 60.5 L466.08 60.63 L466.1 60.76 L466.12 60.9 L466.14 61.03 L466.17 61.16 L466.19 61.29 L466.21 61.43 L466.23 61.56 L466.25 61.69 L466.27 61.78" fill="none" stroke="#4DBEEE" stroke-width="1.8"/>
<path d="M466.26 61.76 L466.28 61.89 L466.3 62.02 L466.33 62.16 L466.35 62.29 L466.37 62.42 L466.39 62.55 L466.41 62.69 L466.43 62.82 L466.44 62.95 L466.46 63.09 L466.48 63.22 L466.5 63.35 L466.52 63.49 L466.54 63.62 L466.56 63.75 L466.57 63.89 L466.59 64.02 L466.61 64.15 L466.63 64.29 L466.64 64.42 L466.66 64.56 L466.68 64.69 L466.7 64.82 L466.71 64.96 L466.73 65.09 L466.74 65.23 L466.76 65.36 L466.78 65.49 L466.79 65.63 L466.81 65.76 L466.82 65.9 L466.84 66.03 L466.85 66.12" fill="none" stroke="#A2142F" stroke-width="1.8"/>
<path d="M466.84 66.1 L466.86 66.23 L466.87 66.37 L466.89 66.5 L466.9 66.64 L466.92 66.77 L466.93 66.9 L466.94 67.04 L466.96 67.17 L466.97 67.31 L466.98 67.44 L467 67.58 L467.01 67.71 L467.02 67.85 L467.03 67.98 L467.05 68.12 L467.06 68.25 L467.07 68.39 L467.08 68.52 L467.09 68.66 L467.1 68.79 L467.11 68.93 L467.13 69.06 L467.14 69.2 L467.15 69.33 L467.16 69.47 L467.17 69.6 L467.18 69.74 L467.19 69.88 L467.2 70.01 L467.21 70.15 L467.22 70.28 L467.22 70.42 L467.23 70.49" fill="none" stroke="#0072BD" stroke-width="1.8"/>
<path d="M467.23 70.46 L467.24 70.6 L467.25 70.73 L467.25 70.87 L467.26 71.01 L467.27 71.14 L467.28 71.28 L467.29 71.41 L467.29 71.55 L467.3 71.69 L467.31 71.82 L467.32 71.96 L467.32 72.09 L467.33 72.23 L467.34 72.37 L467.34 72.5 L467.35 72.64 L467.36 72.77 L467.36 72.91 L467.37 73.05 L467.37 73.18 L467.38 73.32 L467.38 73.46 L467.39 73.59 L467.39 73.73 L467.4 73.86 L467.4 74 L467.41 74.14 L467.41 74.27 L467.42 74.41 L467.42 74.55 L467.43 74.68 L467.43 74.82 L467.43 74.87" fill="none" stroke="#D95319" stroke-width="1.8"/>
<path d="M467.43 74.84 L467.43 74.98 L467.44 75.12 L467.44 75.25 L467.44 75.39 L467.45 75.53 L467.45 75.66 L467.45 75.8 L467.45 75.94 L467.46 76.07 L467.46 76.21 L467.46 76.35 L467.46 76.48 L467.47 76.62 L467.47 76.76 L467.47 76.9 L467.47 77.03 L467.47 77.17 L467.47 77.31 L467.47 77.44 L467.47 77.58 L467.47 77.72 L467.47 77.86 L467.47 77.99 L467.47 78.13 L467.47 78.27 L467.47 78.4 L467.47 78.54 L467.47 78.68 L467.47 78.82 L467.47 78.95 L467.47 79.09 L467.47 79.23 L467.47 79.25" fill="none" stroke="#EDB120" stroke-width="1.8"/>
<path d="M467.47 79.23 L467.47 79.36 L467.47 79.5 L467.47 79.64 L467.47 79.78 L467.46 79.91 L467.46 80.05 L467.46 80.19 L467.46 80.33 L467.46 80.46 L467.45 80.6 L467.45 80.74 L467.45 80.88 L467.44 81.01 L467.44 81.15 L467.44 81.29 L467.44 81.43 L467.43 81.57 L467.43 81.7 L467.42 81.84 L467.42 81.98 L467.42 82.12 L467.41 82.25 L467.41 82.39 L467.4 82.53 L467.4 82.67 L467.4 82.8 L467.39 82.94 L467.39 83.08 L467.38 83.22 L467.38 83.36 L467.37 83.49 L467.37 83.63 L467.37 83.63" fill="none" stroke="#7E2F8E" stroke-width="1.8"/>
<path d="M467.37 83.61 L467.36 83.75 L467.36 83.88 L467.35 84.02 L467.34 84.16 L467.34 84.3 L467.33 84.43 L467.33 84.57 L467.32 84.71 L467.31 84.85 L467.31 84.99 L467.3 85.12 L467.29 85.26 L467.29 85.4 L467.28 85.54 L467.27 85.68 L467.26 85.81 L467.26 85.95 L467.25 86.09 L467.24 86.23 L467.23 86.36 L467.23 86.5 L467.22 86.64 L467.21 86.78 L467.2 86.92 L467.19 87.05 L467.18 87.19 L467.18 87.33 L467.17 87.47 L467.16 87.61 L467.15 87.74 L467.14 87.88 L467.13 88" fill="none" stroke="#77AC30" stroke-width="1.8"/>
<path d="M467.13 87.97 L467.13 88.11 L467.12 88.25 L467.11 88.39 L467.1 88.53 L467.09 88.66 L467.08 88.8 L467.07 88.94 L467.06 89.08 L467.05 89.22 L467.04 89.35 L467.03 89.49 L467.02 89.63 L467.01 89.77 L466.99 89.91 L466.98 90.04 L466.97 90.18 L466.96 90.32 L466.95 90.46 L466.94 90.59 L466.93 90.73 L466.92 90.87 L466.91 91.01 L466.89 91.15 L466.88 91.28 L466.87 91.42 L466.86 91.56 L466.85 91.7 L466.83 91.84 L466.82 91.97 L466.81 92.11 L466.8 92.25 L466.79 92.36" fill="none" stroke="#4DBEEE" stroke-width="1.8"/>
<path d="M466.79 92.34 L466.78 92.48 L466.76 92.62 L466.75 92.75 L466.74 92.89 L466.73 93.03 L466.71 93.17 L466.7 93.31 L466.69 93.44 L466.67 93.58 L466.66 93.72 L466.65 93.86 L466.63 93.99 L466.62 94.13 L466.6 94.27 L466.59 94.41 L466.58 94.55 L466.56 94.68 L466.55 94.82 L466.53 94.96 L466.52 95.1 L466.5 95.23 L466.49 95.37 L466.48 95.51 L466.46 95.65 L466.45 95.78 L466.43 95.92 L466.42 96.06 L466.4 96.2 L466.39 96.33 L466.37 96.47 L466.35 96.61 L466.34 96.72" fill="none" stroke="#A2142F" stroke-width="1.8"/>
<path d="M466.34 96.7 L466.33 96.84 L466.31 96.97 L466.3 97.11 L466.28 97.25 L466.27 97.39 L466.25 97.52 L466.23 97.66 L466.22 97.8 L466.2 97.94 L466.19 98.07 L466.17 98.21 L466.15 98.35 L466.14 98.48 L466.12 98.62 L466.1 98.76 L466.09 98.9 L466.07 99.03 L466.05 99.17 L466.04 99.31 L466.02 99.44 L466 99.58 L465.99 99.72 L465.97 99.86 L465.95 99.99 L465.93 100.13 L465.92 100.27 L465.9 100.4 L465.88 100.54 L465.86 100.68 L465.85 100.81 L465.83 100.95 L465.81 101.06" fill="none" stroke="#0072BD" stroke-width="1.8"/>
<path d="M465.82 101.04 L465.8 101.18 L465.78 101.32 L465.76 101.45 L465.74 101.59 L465.73 101.73 L465.71 101.86 L465.69 102 L465.67 102.13 L465.65 102.27 L465.63 102.41 L465.62 102.54 L465.6 102.68 L465.58 102.82 L465.56 102.95 L465.54 103.09 L465.52 103.23 L465.5 103.36 L465.48 103.5 L465.46 103.63 L465.45 103.77 L465.43 103.91 L465.41 104.04 L465.39 104.18 L465.37 104.32 L465.35 104.45 L465.33 104.59 L465.31 104.72 L465.29 104.86 L465.27 105 L465.25 105.13 L465.23 105.27 L465.21 105.4 L465.21 105.4" fill="none" stroke="#D95319" stroke-width="1.8"/>
<path d="M465.21 105.38 L465.19 105.52 L465.17 105.65 L465.15 105.79 L465.13 105.92 L465.11 106.06 L465.09 106.19 L465.07 106.33 L465.05 106.47 L465.03 106.6 L465.01 106.74 L464.99 106.87 L464.97 107.01 L464.95 107.14 L464.93 107.28 L464.91 107.41 L464.89 107.55 L464.87 107.68 L464.85 107.82 L464.83 107.95 L464.81 108.09 L464.79 108.22 L464.77 108.36 L464.74 108.49 L464.72 108.63 L464.7 108.76 L464.68 108.9 L464.66 109.03 L464.65 109.13 L464.64 109.25 L464.62 109.36 L464.61 109.48 L464.6 109.59 L464.59 109.71 L464.59 109.73" fill="none" stroke="#EDB120" stroke-width="1.8"/>
<path d="M464.59 109.71 L464.58 109.82 L464.56 109.94 L464.55 110.05 L464.54 110.17 L464.53 110.28 L464.52 110.4 L464.5 110.51 L464.49 110.63 L464.48 110.74 L464.47 110.86 L464.45 110.97 L464.44 111.09 L464.43 111.2 L464.42 111.32 L464.4 111.43 L464.39 111.55 L464.38 111.66 L464.37 111.77 L464.36 111.89 L464.34 112 L464.33 112.12 L464.32 112.23 L464.31 112.35 L464.29 112.46 L464.28 112.57 L464.27 112.69 L464.26 112.8 L464.25 112.92 L464.23 113.03 L464.22 113.14 L464.21 113.26 L464.2 113.37 L464.18 113.49 L464.17 113.6 L464.16 113.71 L464.15 113.83 L464.14 113.94 L464.12 114.05 L464.11 114.17 L464.1 114.28 L464.09 114.4 L464.07 114.51 L464.06 114.62 L464.05 114.74 L464.04 114.85 L464.03 114.96 L464.01 115.08 L464 115.19 L463.99 115.3 L463.98 115.42 L463.96 115.53 L463.96 115.53" fill="none" stroke="#7E2F8E" stroke-width="1.8"/>
<path d="M463.97 115.51 L463.95 115.62 L463.94 115.74 L463.93 115.85 L463.92 115.96 L463.91 116.08 L463.89 116.19 L463.88 116.3 L463.87 116.41 L463.86 116.53 L463.85 116.64 L463.83 116.75 L463.82 116.87 L463.81 116.98 L463.8 117.09 L463.79 117.2 L463.77 117.32 L463.76 117.43 L463.75 117.54 L463.74 117.65 L463.73 117.77 L463.72 117.88 L463.7 117.99 L463.69 118.1 L463.68 118.21 L463.67 118.33 L463.66 118.44 L463.64 118.55 L463.63 118.66 L463.62 118.78 L463.61 118.89 L463.6 119 L463.59 119.11 L463.58 119.22 L463.56 119.33 L463.55 119.45 L463.54 119.56 L463.53 119.67 L463.52 119.78 L463.51 119.89 L463.5 120 L463.48 120.12 L463.47 120.23 L463.46 120.34 L463.45 120.45 L463.44 120.56 L463.43 120.67 L463.42 120.78 L463.41 120.9 L463.39 121.01 L463.38 121.12 L463.37 121.23 L463.36 121.34 L463.36 121.34" fill="none" stroke="#77AC30" stroke-width="1.8"/>
<path d="M463.36 121.32 L463.35 121.43 L463.34 121.54 L463.33 121.65 L463.32 121.77 L463.31 121.88 L463.3 121.99 L463.29 122.1 L463.28 122.21 L463.27 122.32 L463.25 122.43 L463.24 122.54 L463.23 122.65 L463.22 122.76 L463.21 122.87 L463.2 122.98 L463.19 123.09 L463.18 123.2 L463.17 123.31 L463.16 123.42 L463.15 123.53 L463.14 123.64 L463.13 123.75 L463.12 123.86 L463.11 123.97 L463.1 124.08 L463.09 124.19 L463.08 124.3 L463.07 124.41 L463.06 124.52 L463.05 124.63 L463.04 124.74 L463.03 124.85 L463.02 124.96 L463.01 125.07 L463 125.18 L462.99 125.29 L462.98 125.4 L462.97 125.51 L462.96 125.62 L462.95 125.73 L462.94 125.84 L462.94 125.95 L462.93 126.06 L462.92 126.17 L462.91 126.27 L462.9 126.38 L462.89 126.49 L462.88 126.6 L462.87 126.71 L462.86 126.82 L462.85 126.93 L462.84 127.04 L462.84 127.15 L462.84 127.15" fill="none" stroke="#4DBEEE" stroke-width="1.8"/>
<path d="M462.84 127.13 L462.83 127.24 L462.82 127.35 L462.81 127.45 L462.8 127.56 L462.79 127.67 L462.79 127.78 L462.78 127.89 L462.77 128 L462.76 128.1 L462.75 128.21 L462.75 128.32 L462.74 128.43 L462.73 128.54 L462.72 128.65 L462.71 128.75 L462.71 128.86 L462.7 128.97 L462.69 129.08 L462.68 129.19 L462.67 129.29 L462.67 129.4 L462.66 129.51 L462.65 129.62 L462.65 129.72 L462.64 129.83 L462.63 129.94 L462.62 130.05 L462.62 130.15 L462.61 130.26 L462.6 130.37 L462.6 130.48 L462.59 130.58 L462.58 130.69 L462.58 130.8 L462.57 130.9 L462.56 131.01 L462.56 131.12 L462.55 131.23 L462.54 131.33 L462.54 131.44 L462.53 131.55 L462.52 131.65 L462.52 131.76 L462.51 131.87 L462.51 131.97 L462.5 132.08 L462.5 132.19 L462.49 132.29 L462.48 132.4 L462.48 132.51 L462.47 132.61 L462.47 132.72 L462.46 132.82 L462.46 132.93 L462.45 132.98" fill="none" stroke="#A2142F" stroke-width="1.8"/>
<path d="M462.46 132.97 L462.45 133.07 L462.45 133.18 L462.44 133.28 L462.44 133.39 L462.43 133.5 L462.43 133.6 L462.42 133.71 L462.42 133.81 L462.41 133.92 L462.41 134.03 L462.4 134.13 L462.4 134.24 L462.4 134.34 L462.39 134.45 L462.39 134.55 L462.38 134.66 L462.38 134.76 L462.38 134.87 L462.37 134.97 L462.37 135.08 L462.37 135.18 L462.36 135.29 L462.36 135.39 L462.36 135.5 L462.35 135.6 L462.35 135.71 L462.35 135.81 L462.34 135.92 L462.34 136.02 L462.34 136.13 L462.33 136.23 L462.33 136.34 L462.33 136.44 L462.33 136.55 L462.33 136.65 L462.32 136.76 L462.32 136.86 L462.32 136.96 L462.32 137.07 L462.32 137.17 L462.31 137.28 L462.31 137.38 L462.31 137.48 L462.31 137.59 L462.31 137.69 L462.31 137.8 L462.31 137.9 L462.3 138 L462.3 138.11 L462.3 138.21 L462.3 138.32 L462.3 138.42 L462.3 138.52 L462.3 138.63 L462.3 138.73 L462.3 138.82" fill="none" stroke="#0072BD" stroke-width="1.8"/>
<path d="M462.3 138.8 L462.3 138.9 L462.3 139 L462.3 139.11 L462.3 139.21 L462.3 139.31 L462.3 139.42 L462.3 139.52 L462.3 139.62 L462.3 139.73 L462.3 139.83 L462.3 139.93 L462.3 140.03 L462.3 140.14 L462.31 140.24 L462.31 140.34 L462.31 140.44 L462.31 140.55 L462.31 140.65 L462.31 140.75 L462.31 140.85 L462.32 140.96 L462.32 141.06 L462.32 141.16 L462.32 141.26 L462.33 141.37 L462.33 141.47 L462.33 141.57 L462.33 141.67 L462.34 141.77 L462.34 141.87 L462.34 141.98 L462.34 142.08 L462.35 142.18 L462.35 142.28 L462.35 142.38 L462.36 142.48 L462.36 142.59 L462.37 142.69 L462.37 142.79 L462.37 142.89 L462.38 142.99 L462.38 143.09 L462.39 143.19 L462.39 143.29 L462.39 143.39 L462.4 143.5 L462.4 143.6 L462.41 143.7 L462.41 143.8 L462.42 143.9 L462.42 144 L462.43 144.1 L462.44 144.2 L462.44 144.3 L462.45 144.4 L462.45 144.5 L462.46 144.6 L462.46 144.65" fill="none" stroke="#D95319" stroke-width="1.8"/>
<path d="M462.46 144.64 L462.47 144.74 L462.47 144.84 L462.48 144.94 L462.49 145.04 L462.49 145.14 L462.5 145.24 L462.51 145.34 L462.51 145.44 L462.52 145.54 L462.53 145.64 L462.54 145.73 L462.54 145.83 L462.55 145.93 L462.56 146.03 L462.57 146.13 L462.57 146.23 L462.58 146.33 L462.59 146.43 L462.6 146.53 L462.61 146.63 L462.62 146.73 L462.63 146.83 L462.64 146.93 L462.64 147.03 L462.65 147.12 L462.66 147.22 L462.67 147.32 L462.68 147.42 L462.69 147.52 L462.7 147.62 L462.71 147.72 L462.72 147.81 L462.73 147.91 L462.74 148.01 L462.75 148.11 L462.76 148.21 L462.78 148.31 L462.79 148.4 L462.8 148.5 L462.81 148.6 L462.82 148.7 L462.83 148.8 L462.84 148.89 L462.86 148.99 L462.87 149.09 L462.88 149.19 L462.89 149.28 L462.9 149.38 L462.92 149.48 L462.93 149.58 L462.94 149.67 L462.96 149.77 L462.97 149.87 L462.98 149.97 L462.99 150.06 L463.01 150.16 L463.02 150.26 L463.04 150.35 L463.05 150.45 L463.05 150.45" fill="none" stroke="#EDB120" stroke-width="1.8"/>
<path d="M463.05 150.44 L463.06 150.53 L463.08 150.63 L463.09 150.73 L463.11 150.82 L463.12 150.92 L463.13 151.02 L463.15 151.11 L463.17 151.21 L463.18 151.3 L463.2 151.4 L463.21 151.5 L463.23 151.59 L463.24 151.69 L463.26 151.79 L463.28 151.88 L463.29 151.98 L463.31 152.07 L463.33 152.17 L463.34 152.27 L463.36 152.36 L463.38 152.46 L463.39 152.55 L463.41 152.65 L463.43 152.74 L463.45 152.84 L463.46 152.93 L463.48 153.03 L463.5 153.12 L463.52 153.22 L463.54 153.31 L463.56 153.41 L463.58 153.5 L463.59 153.6 L463.61 153.69 L463.63 153.79 L463.65 153.88 L463.67 153.98 L463.69 154.07 L463.71 154.17 L463.73 154.26 L463.75 154.36 L463.77 154.45 L463.79 154.55 L463.82 154.64 L463.84 154.73 L463.86 154.83 L463.88 154.92 L463.9 155.02 L463.92 155.11 L463.94 155.2 L463.97 155.3 L463.99 155.39 L464.01 155.49 L464.03 155.58 L464.06 155.67 L464.08 155.77 L464.1 155.86 L464.12 155.95 L464.15 156.05 L464.17 156.14 L464.18 156.17" fill="none" stroke="#7E2F8E" stroke-width="1.8"/>
<path d="M464.18 156.16 L464.2 156.25 L464.22 156.34 L464.25 156.43 L464.27 156.53 L464.3 156.62 L464.32 156.71 L464.35 156.81 L464.37 156.9 L464.4 156.99 L464.42 157.08 L464.45 157.18 L464.47 157.27 L464.5 157.36 L464.52 157.45 L464.55 157.55 L464.58 157.64 L464.6 157.73 L464.63 157.82 L464.66 157.91 L464.68 158.01 L464.71 158.1 L464.74 158.19 L464.77 158.28 L464.79 158.37 L464.82 158.47 L464.85 158.56 L464.88 158.65 L464.91 158.74 L464.94 158.83 L464.96 158.92 L464.99 159.01 L465.02 159.11 L465.05 159.2 L465.08 159.29 L465.11 159.38 L465.14 159.47 L465.17 159.56 L465.2 159.65 L465.23 159.74 L465.26 159.83 L465.29 159.92 L465.33 160.01 L465.36 160.1 L465.39 160.19 L465.42 160.29 L465.45 160.38 L465.48 160.47 L465.52 160.56 L465.55 160.65 L465.58 160.74 L465.62 160.83 L465.65 160.92 L465.69 161.02 L465.77 161.21 L465.86 161.39 L465.94 161.58 L466.01 161.73" fill="none" stroke="#77AC30" stroke-width="1.8"/>
<path d="M466 161.7 L466.08 161.88 L466.17 162.07 L466.26 162.25 L466.35 162.43 L466.43 162.61 L466.52 162.79 L466.61 162.97 L466.71 163.15 L466.8 163.33 L466.89 163.51 L466.99 163.69 L467.08 163.87 L467.18 164.05 L467.27 164.22 L467.37 164.4 L467.47 164.58 L467.57 164.75 L467.66 164.93 L467.76 165.1 L467.87 165.27 L467.97 165.45 L468.07 165.62 L468.17 165.79 L468.28 165.96 L468.28 165.96" fill="none" stroke="#4DBEEE" stroke-width="1.8"/>
<path d="M468.26 165.93 L468.36 166.1 L468.47 166.27 L468.57 166.44 L468.68 166.61 L468.79 166.78 L468.9 166.94 L469.01 167.11 L469.12 167.28 L469.23 167.44 L469.34 167.61 L469.45 167.77 L469.56 167.93 L469.67 168.09 L469.79 168.26 L469.9 168.42 L470.02 168.58 L470.13 168.74 L470.25 168.89 L470.36 169.05 L470.48 169.21 L470.6 169.36 L470.72 169.52 L470.76 169.57" fill="none" stroke="#A2142F" stroke-width="1.8"/>
<path d="M470.74 169.55 L470.86 169.7 L470.98 169.85 L471.1 170.01 L471.22 170.16 L471.34 170.31 L471.46 170.46 L471.59 170.61 L471.71 170.76 L471.83 170.91 L471.96 171.05 L472.08 171.2 L472.21 171.35 L472.33 171.49 L472.46 171.63 L472.59 171.78 L472.72 171.92 L472.85 172.06 L472.97 172.2 L473.1 172.34 L473.23 172.48 L473.36 172.61 L473.41 172.66" fill="none" stroke="#0072BD" stroke-width="1.8"/>
<path d="M473.39 172.64 L473.52 172.77 L473.65 172.91 L473.78 173.04 L473.91 173.18 L474.05 173.31 L474.18 173.44 L474.31 173.57 L474.45 173.7 L474.58 173.83 L474.72 173.96 L474.85 174.08 L474.99 174.21 L475.13 174.33 L475.26 174.46 L475.4 174.58 L475.54 174.7 L475.68 174.82 L475.82 174.94 L475.95 175.06 L476.09 175.17 L476.12 175.19" fill="none" stroke="#D95319" stroke-width="1.8"/>
<path d="M476.09 175.17 L476.23 175.29 L476.37 175.4 L476.52 175.52 L476.66 175.63 L476.8 175.74 L476.94 175.85 L477.08 175.96 L477.22 176.07 L477.37 176.18 L477.51 176.28 L477.65 176.39 L477.8 176.49 L477.94 176.6 L478.09 176.7 L478.23 176.8 L478.38 176.9 L478.52 177 L478.67 177.09 L478.81 177.19 L478.84 177.2" fill="none" stroke="#EDB120" stroke-width="1.8"/>
<path d="M478.81 177.19 L478.96 177.28 L479.11 177.37 L479.25 177.47 L479.4 177.56 L479.55 177.65 L479.7 177.74 L479.84 177.82 L479.99 177.91 L480.14 177.99 L480.29 178.08 L480.44 178.16 L480.59 178.24 L480.74 178.32 L480.89 178.4 L481.04 178.47 L481.18 178.55 L481.34 178.62 L481.49 178.7 L481.51 178.71" fill="none" stroke="#7E2F8E" stroke-width="1.8"/>
<path d="M481.49 178.7 L481.64 178.77 L481.79 178.84 L481.94 178.91 L482.09 178.97 L482.24 179.04 L482.39 179.1 L482.54 179.17 L482.7 179.23 L482.85 179.29 L483 179.35 L483.15 179.41 L483.3 179.46 L483.46 179.52 L483.61 179.57 L483.76 179.62 L483.91 179.68 L484.07 179.72 L484.09 179.73" fill="none" stroke="#77AC30" stroke-width="1.8"/>
<path d="M484.07 179.72 L484.22 179.77 L484.37 179.82 L484.53 179.86 L484.68 179.91 L484.83 179.95 L484.99 179.99 L485.14 180.03 L485.29 180.07 L485.45 180.1 L485.6 180.14 L485.75 180.17 L485.91 180.2 L486.06 180.23 L486.22 180.26 L486.37 180.29 L486.52 180.31 L486.52 180.31" fill="none" stroke="#4DBEEE" stroke-width="1.8"/>
<path d="M486.5 180.31 L486.65 180.33 L486.81 180.36 L486.96 180.38 L487.11 180.4 L487.27 180.41 L487.42 180.43 L487.57 180.45 L487.73 180.46 L487.88 180.47 L488.04 180.48 L488.19 180.49 L488.34 180.49 L488.5 180.5 L488.65 180.5 L488.8 180.5 L488.96 180.5 L489.11 180.5 L489.16 180.5" fill="none" stroke="#A2142F" stroke-width="1.8"/>
<path d="M489.14 180.5 L489.29 180.5 L489.44 180.49 L489.6 180.49 L489.75 180.48 L489.9 180.47 L490.05 180.45 L490.21 180.44 L490.36 180.43 L490.51 180.41 L490.67 180.39 L490.82 180.37 L490.97 180.35 L491.12 180.32 L491.27 180.3 L491.42 180.27 L491.58 180.24 L491.73 180.21 L491.88 180.17 L492.03 180.14 L492.08 180.13" fill="none" stroke="#0072BD" stroke-width="1.8"/>
<path d="M492.05 180.13 L492.21 180.1 L492.36 180.06 L492.51 180.02 L492.66 179.97 L492.81 179.93 L492.96 179.88 L493.11 179.84 L493.25 179.79 L493.4 179.73 L493.55 179.68 L493.7 179.62 L493.85 179.57 L494 179.51 L494.15 179.45 L494.29 179.38 L494.44 179.32 L494.59 179.25 L494.73 179.18 L494.88 179.11 L495.03 179.04 L495.15 178.98" fill="none" stroke="#D95319" stroke-width="1.8"/>
<path d="M495.12 178.99 L495.27 178.91 L495.42 178.84 L495.56 178.76 L495.71 178.68 L495.85 178.59 L495.99 178.51 L496.14 178.42 L496.28 178.33 L496.43 178.24 L496.57 178.14 L496.71 178.05 L496.85 177.95 L497 177.85 L497.14 177.75 L497.28 177.64 L497.42 177.54 L497.56 177.43 L497.7 177.32 L497.84 177.21 L497.98 177.09 L498.12 176.98 L498.16 176.94" fill="none" stroke="#EDB120" stroke-width="1.8"/>
<path d="M498.14 176.96 L498.28 176.84 L498.42 176.72 L498.55 176.6 L498.69 176.47 L498.83 176.34 L498.96 176.21 L499.1 176.08 L499.23 175.95 L499.37 175.81 L499.5 175.68 L499.64 175.54 L499.77 175.39 L499.9 175.25 L500.04 175.1 L500.17 174.95 L500.3 174.8 L500.43 174.65 L500.56 174.49 L500.69 174.34 L500.82 174.18 L500.95 174.01 L500.95 174.01" fill="none" stroke="#7E2F8E" stroke-width="1.8"/>
<path d="M500.93 174.04 L501.06 173.88 L501.19 173.71 L501.31 173.54 L501.44 173.37 L501.57 173.2 L501.69 173.02 L501.82 172.85 L501.94 172.67 L502.07 172.49 L502.19 172.3 L502.31 172.11 L502.44 171.93 L502.56 171.73 L502.68 171.54 L502.8 171.34 L502.92 171.15 L503.04 170.95 L503.16 170.74 L503.28 170.54 L503.39 170.33 L503.39 170.33" fill="none" stroke="#77AC30" stroke-width="1.8"/>
<path d="M503.38 170.36 L503.49 170.16 L503.61 169.94 L503.72 169.73 L503.84 169.51 L503.95 169.29 L504.07 169.07 L504.18 168.85 L504.29 168.62 L504.41 168.39 L504.52 168.16 L504.63 167.93 L504.74 167.69 L504.85 167.45 L504.96 167.21 L505.06 166.97 L505.17 166.72 L505.28 166.47 L505.38 166.22 L505.47 166.01" fill="none" stroke="#4DBEEE" stroke-width="1.8"/>
<path d="M505.45 166.05 L505.56 165.8 L505.66 165.54 L505.76 165.28 L505.87 165.02 L505.97 164.75 L506.07 164.48 L506.17 164.21 L506.27 163.94 L506.37 163.66 L506.46 163.39 L506.56 163.1 L506.66 162.82 L506.75 162.54 L506.85 162.25 L506.94 161.96 L507.03 161.66 L507.13 161.37 L507.19 161.17" fill="none" stroke="#A2142F" stroke-width="1.8"/>
<path d="M507.17 161.22 L507.26 160.92 L507.35 160.61 L507.44 160.31 L507.53 160 L507.62 159.69 L507.71 159.38 L507.79 159.06 L507.88 158.74 L507.96 158.42 L508.04 158.1 L508.13 157.77 L508.21 157.44 L508.29 157.11 L508.37 156.77 L508.45 156.44 L508.52 156.1 L508.56 155.92" fill="none" stroke="#0072BD" stroke-width="1.8"/>
<path d="M508.55 155.98 L508.63 155.64 L508.7 155.29 L508.78 154.94 L508.85 154.59 L508.92 154.23 L509 153.88 L509.07 153.52 L509.14 153.15 L509.21 152.79 L509.28 152.42 L509.34 152.05 L509.41 151.67 L509.47 151.29 L509.54 150.91 L509.6 150.53 L509.64 150.27" fill="none" stroke="#D95319" stroke-width="1.8"/>
<path d="M509.63 150.34 L509.7 149.95 L509.76 149.56 L509.82 149.17 L509.88 148.77 L509.93 148.37 L509.99 147.97 L510.05 147.57 L510.1 147.16 L510.15 146.75 L510.21 146.34 L510.26 145.92 L510.31 145.5 L510.36 145.08 L510.41 144.65 L510.45 144.3" fill="none" stroke="#EDB120" stroke-width="1.8"/>
<path d="M510.44 144.37 L510.49 143.94 L510.53 143.51 L510.58 143.07 L510.62 142.63 L510.66 142.19 L510.7 141.75 L510.74 141.3 L510.78 140.85 L510.82 140.39 L510.86 139.94 L510.89 139.48 L510.93 139.02 L510.96 138.55 L510.99 138.08 L510.99 138.08" fill="none" stroke="#7E2F8E" stroke-width="1.8"/>
<path d="M510.99 138.16 L511.02 137.69 L511.05 137.21 L511.08 136.74 L511.11 136.26 L511.13 135.77 L511.16 135.29 L511.18 134.8 L511.21 134.3 L511.23 133.81 L511.25 133.31 L511.27 132.81 L511.29 132.3 L511.3 131.79 L511.31 131.54" fill="none" stroke="#77AC30" stroke-width="1.8"/>
<path d="M511.31 131.62 L511.33 131.11 L511.34 130.6 L511.35 130.08 L511.36 129.56 L511.38 129.03 L511.38 128.5 L511.39 127.97 L511.4 127.44 L511.41 126.9 L511.41 126.36 L511.41 125.81 L511.41 125.27 L511.41 124.81" fill="none" stroke="#4DBEEE" stroke-width="1.8"/>
<path d="M511.41 124.9 L511.41 124.35 L511.41 123.79 L511.41 123.23 L511.41 122.67 L511.4 122.1 L511.39 121.53 L511.38 120.96 L511.38 120.39 L511.36 119.81 L511.35 119.23 L511.34 118.64 L511.32 118.05 L511.32 117.76" fill="none" stroke="#A2142F" stroke-width="1.8"/>
<path d="M511.32 117.86 L511.3 117.26 L511.28 116.67 L511.26 116.07 L511.24 115.46 L511.22 114.86 L511.2 114.25 L511.17 113.64 L511.15 113.02 L511.12 112.4 L511.09 111.78 L511.06 111.15 L511.03 110.63" fill="none" stroke="#0072BD" stroke-width="1.8"/>
<path d="M511.04 110.73 L511.01 110.1 L510.97 109.46 L510.94 108.82 L510.9 108.18 L510.86 107.54 L510.82 106.89 L510.78 106.24 L510.74 105.58 L510.69 104.92 L510.64 104.26 L510.6 103.59 L510.57 103.15" fill="none" stroke="#D95319" stroke-width="1.8"/>
<path d="M510.57 103.26 L510.52 102.59 L510.47 101.91 L510.42 101.23 L510.37 100.55 L510.31 99.87 L510.25 99.18 L510.2 98.48 L510.14 97.79 L510.07 97.09 L510.01 96.39 L509.95 95.68 L509.93 95.56" fill="none" stroke="#EDB120" stroke-width="1.8"/>
<path d="M509.95 95.68 L509.88 94.97 L509.81 94.26 L509.74 93.54 L509.67 92.82 L509.6 92.09 L509.53 91.37 L509.45 90.63 L509.37 89.9 L509.29 89.16 L509.21 88.42 L509.15 87.8" fill="none" stroke="#7E2F8E" stroke-width="1.8"/>
<path d="M509.16 87.92 L509.08 87.17 L508.99 86.42 L508.91 85.67 L508.82 84.91 L508.73 84.15 L508.64 83.38 L508.55 82.61 L508.45 81.84 L508.35 81.06 L508.26 80.28 L508.19 79.75" fill="none" stroke="#77AC30" stroke-width="1.8"/>
<path d="M508.21 79.89 L508.11 79.1 L508.01 78.31 L507.9 77.51 L507.8 76.72 L507.69 75.92 L507.58 75.11 L507.47 74.3 L507.36 73.49 L507.25 72.67 L507.13 71.85 L507.09 71.58" fill="none" stroke="#4DBEEE" stroke-width="1.8"/>
<path d="M507.11 71.72 L507 70.89 L506.88 70.06 L506.76 69.23 L506.63 68.4 L506.51 67.56 L506.38 66.71 L506.26 65.87 L506.13 65.02 L506 64.16 L505.86 63.3 L505.86 63.3" fill="none" stroke="#A2142F" stroke-width="1.8"/>
<path d="M505.89 63.45 L505.75 62.58 L505.62 61.72 L505.48 60.85 L505.34 59.98 L505.2 59.1 L505.06 58.22 L504.91 57.33 L504.76 56.44 L504.62 55.55 L504.46 54.66 L504.46 54.66" fill="none" stroke="#0072BD" stroke-width="1.8"/>
<text transform="translate(328.1 197.3)" font-family="Liberation Sans, Arial, sans-serif" font-size="12" fill="#262626" text-anchor="middle" stroke="#262626" stroke-width="0.12">4</text>
<text transform="translate(378.49 197.3)" font-family="Liberation Sans, Arial, sans-serif" font-size="12" fill="#262626" text-anchor="middle" stroke="#262626" stroke-width="0.12">6</text>
<text transform="translate(428.88 197.3)" font-family="Liberation Sans, Arial, sans-serif" font-size="12" fill="#262626" text-anchor="middle" stroke="#262626" stroke-width="0.12">8</text>
<text transform="translate(479.27 197.3)" font-family="Liberation Sans, Arial, sans-serif" font-size="12" fill="#262626" text-anchor="middle" stroke="#262626" stroke-width="0.12">10</text>
<text transform="translate(529.66 197.3)" font-family="Liberation Sans, Arial, sans-serif" font-size="12" fill="#262626" text-anchor="middle" stroke="#262626" stroke-width="0.12">12</text>
<text transform="translate(323.7 184.03)" font-family="Liberation Sans, Arial, sans-serif" font-size="12" fill="#262626" text-anchor="end" stroke="#262626" stroke-width="0.12">4</text>
<text transform="translate(323.7 159.07)" font-family="Liberation Sans, Arial, sans-serif" font-size="12" fill="#262626" text-anchor="end" stroke="#262626" stroke-width="0.12">5</text>
<text transform="translate(323.7 134.12)" font-family="Liberation Sans, Arial, sans-serif" font-size="12" fill="#262626" text-anchor="end" stroke="#262626" stroke-width="0.12">6</text>
<text transform="translate(323.7 109.16)" font-family="Liberation Sans, Arial, sans-serif" font-size="12" fill="#262626" text-anchor="end" stroke="#262626" stroke-width="0.12">7</text>
<text transform="translate(323.7 84.21)" font-family="Liberation Sans, Arial, sans-serif" font-size="12" fill="#262626" text-anchor="end" stroke="#262626" stroke-width="0.12">8</text>
<text transform="translate(323.7 59.26)" font-family="Liberation Sans, Arial, sans-serif" font-size="12" fill="#262626" text-anchor="end" stroke="#262626" stroke-width="0.12">9</text>
<text transform="translate(323.7 34.3)" font-family="Liberation Sans, Arial, sans-serif" font-size="12" fill="#262626" text-anchor="end" stroke="#262626" stroke-width="0.12">10</text>
<text transform="translate(430.5 214.4) scale(1.0 1.07)" font-family="Liberation Serif, Times New Roman, serif" font-size="13.3" fill="#1a1a1a" text-anchor="middle" stroke="#1a1a1a" stroke-width="0.25">X-positon (mm)</text>
<text transform="translate(305.4 99.7) rotate(-90) scale(1.02 1.07)" font-family="Liberation Serif, Times New Roman, serif" font-size="13.3" fill="#1a1a1a" text-anchor="middle" stroke="#1a1a1a" stroke-width="0.25">Y-positon (mm)</text>
<text transform="translate(412.25 238.8) scale(1.0 1.06)" font-family="Liberation Serif, Times New Roman, serif" font-size="14.7" fill="#111" text-anchor="middle" stroke="#111" stroke-width="0.1" letter-spacing="0.6">(<tspan font-weight="bold" stroke-width="0.3">b</tspan>)</text>
<rect x="420.5" y="11.5" width="12" height="9" rx="1" fill="none" stroke="#333" stroke-width="1"/>
<line x1="423.6" y1="40" x2="425.6" y2="25" stroke="#444" stroke-width="0.8"/>
<path d="M426.2 20.8 L422.6 27.2 L425.7 25.4 L428.4 27.8 Z" fill="#111"/>
<rect x="388.5" y="42.5" width="69.0" height="32.0" fill="#fff"/>
<g stroke="#a0a0a0" stroke-width="1" fill="none">
<line x1="399.28" y1="74.5" x2="399.28" y2="73"/>
<line x1="399.28" y1="42.5" x2="399.28" y2="44"/>
<line x1="426.23" y1="74.5" x2="426.23" y2="73"/>
<line x1="426.23" y1="42.5" x2="426.23" y2="44"/>
<line x1="453.19" y1="74.5" x2="453.19" y2="73"/>
<line x1="453.19" y1="42.5" x2="453.19" y2="44"/>
<line x1="388.5" y1="74.5" x2="390" y2="74.5"/>
<line x1="457.5" y1="74.5" x2="456" y2="74.5"/>
<line x1="388.5" y1="58.5" x2="390" y2="58.5"/>
<line x1="457.5" y1="58.5" x2="456" y2="58.5"/>
<line x1="388.5" y1="42.5" x2="390" y2="42.5"/>
<line x1="457.5" y1="42.5" x2="456" y2="42.5"/>
<rect x="388.5" y="42.5" width="69" height="32"/>
</g>
<path d="M388.49 68.59 L388.84 68.09 L389.19 67.6 L389.55 67.11 L389.9 66.63 L390.25 66.15 L390.61 65.68 L390.96 65.21 L391.31 64.75 L391.66 64.3 L392.02 63.85 L392.37 63.4 L392.72 62.96 L393.07 62.53 L393.43 62.1 L393.78 61.68 L394.13 61.26 L394.48 60.85 L394.84 60.44 L395.19 60.04 L395.54 59.64 L395.89 59.25 L396.25 58.86 L396.6 58.48 L396.95 58.1 L397.3 57.73 L397.65 57.37 L398 57.01 L398.36 56.65 L398.71 56.3 L399.06 55.96 L399.41 55.62 L399.76 55.28 L400.11 54.95 L400.46 54.63 L400.82 54.31 L401.17 54 L401.52 53.69 L401.87 53.39 L402.22 53.09 L402.57 52.8 L402.92 52.51 L403.27 52.23 L403.62 51.95 L403.97 51.68 L404.33 51.41 L404.68 51.15 L405.03 50.9 L405.38 50.65 L405.73 50.4 L406.08 50.16 L406.43 49.92 L406.78 49.69 L407.13 49.47 L407.48 49.25 L407.83 49.03 L408.18 48.83 L408.53 48.62 L408.88 48.42 L409.23 48.23 L409.58 48.04 L409.93 47.85 L410.28 47.68 L410.63 47.5 L410.98 47.33 L411.33 47.17 L411.68 47.01 L412.02 46.86" fill="none" stroke="#0072BD" stroke-width="1.8"/>
<path d="M410.63 47.5 L410.98 47.33 L411.33 47.17 L411.68 47.01 L412.02 46.86 L412.37 46.71 L412.72 46.57 L413.07 46.43 L413.42 46.3 L413.77 46.17 L414.12 46.05 L414.47 45.93 L414.82 45.82 L415.17 45.71 L415.51 45.61 L415.86 45.51 L416.21 45.42 L416.56 45.33 L416.91 45.25 L417.26 45.18 L417.6 45.1 L417.95 45.04 L418.3 44.98 L418.65 44.92 L419 44.87 L419.35 44.82 L419.69 44.78 L420.04 44.75 L420.39 44.71 L420.74 44.69 L421.08 44.67 L421.43 44.65 L421.78 44.64 L422.13 44.63 L422.47 44.63 L422.82 44.64 L423.17 44.65 L423.52 44.66 L423.86 44.68 L424.21 44.7 L424.56 44.73 L424.9 44.77 L425.25 44.81 L425.6 44.85 L425.94 44.9 L426.29 44.95 L426.64 45.01 L426.98 45.08 L427.33 45.15 L427.68 45.22 L428.02 45.3 L428.37 45.38 L428.72 45.47 L429.06 45.57 L429.41 45.67 L429.75 45.77 L430.1 45.88 L430.45 45.99 L430.79 46.11 L431.14 46.23 L431.48 46.36 L431.83 46.5 L432.17 46.63 L432.52 46.78 L432.86 46.93 L433.21 47.08 L433.55 47.24 L433.9 47.4 L434.24 47.57 L434.59 47.74 L434.93 47.92 L435.28 48.1 L435.62 48.29" fill="none" stroke="#D95319" stroke-width="1.8"/>
<path d="M434.59 47.74 L434.93 47.92 L435.28 48.1 L435.62 48.29 L435.97 48.48 L436.31 48.68 L436.66 48.88 L437 49.09 L437.35 49.3 L437.69 49.52 L438.04 49.74 L438.38 49.97 L438.72 50.2 L439.07 50.44 L439.41 50.68 L439.76 50.92 L440.1 51.17 L440.44 51.43 L440.79 51.69 L441.13 51.96 L441.48 52.23 L441.82 52.5 L442.16 52.78 L442.51 53.07 L442.85 53.36 L443.19 53.65 L443.54 53.95 L443.88 54.26 L444.22 54.57 L444.56 54.88 L444.91 55.2 L445.25 55.52 L445.59 55.85 L445.94 56.18 L446.28 56.52 L446.62 56.86 L446.96 57.21 L447.31 57.57 L447.65 57.92 L447.99 58.28 L448.33 58.65 L448.67 59.02 L449.02 59.4 L449.36 59.78 L449.7 60.17 L450.04 60.56 L450.38 60.95 L450.72 61.35 L451.07 61.76 L451.41 62.17 L451.75 62.58 L452.09 63 L452.43 63.43 L452.77 63.85 L453.11 64.29 L453.45 64.73 L453.8 65.17 L454.14 65.62 L454.48 66.07 L454.82 66.53 L455.16 66.99 L455.5 67.45 L455.84 67.93 L456.18 68.4 L456.52 68.88 L456.86 69.37 L457.2 69.86 L457.54 70.35" fill="none" stroke="#EDB120" stroke-width="1.8"/>
<text transform="translate(399.28 91.3)" font-family="Liberation Sans, Arial, sans-serif" font-size="12.5" fill="#262626" text-anchor="middle" stroke="#262626" stroke-width="0.12">7.8</text>
<text transform="translate(426.23 91.3)" font-family="Liberation Sans, Arial, sans-serif" font-size="12.5" fill="#262626" text-anchor="middle" stroke="#262626" stroke-width="0.12">7.9</text>
<text transform="translate(453.19 91.3)" font-family="Liberation Sans, Arial, sans-serif" font-size="12.5" fill="#262626" text-anchor="middle" stroke="#262626" stroke-width="0.12">8</text>
<text transform="translate(385.3 79.3)" font-family="Liberation Sans, Arial, sans-serif" font-size="12.5" fill="#262626" text-anchor="end" stroke="#262626" stroke-width="0.12">10.52</text>
<text transform="translate(385.3 63.3)" font-family="Liberation Sans, Arial, sans-serif" font-size="12.5" fill="#262626" text-anchor="end" stroke="#262626" stroke-width="0.12">10.525</text>
<text transform="translate(385.3 47.3)" font-family="Liberation Sans, Arial, sans-serif" font-size="12.5" fill="#262626" text-anchor="end" stroke="#262626" stroke-width="0.12">10.53</text>
<text transform="translate(349 146) scale(1.0 1.07)" font-family="Liberation Serif, Times New Roman, serif" font-size="12" fill="#1a1a1a" stroke="#1a1a1a" stroke-width="0.25" word-spacing="0.45">Beziers: different color lines</text>
<line x1="399.6" y1="129.2" x2="376" y2="107.5" stroke="#555" stroke-width="0.9"/>
<path d="M373.2 105 L376.6 111.2 L377.2 108.2 L380.2 107.6 Z" fill="#111"/>
<line x1="436.8" y1="129.2" x2="459.5" y2="112.3" stroke="#555" stroke-width="0.9"/>
<path d="M462.3 110.2 L455.6 111.6 L458.6 112.8 L458.6 115.9 Z" fill="#111"/>
</svg>
</body></html>
